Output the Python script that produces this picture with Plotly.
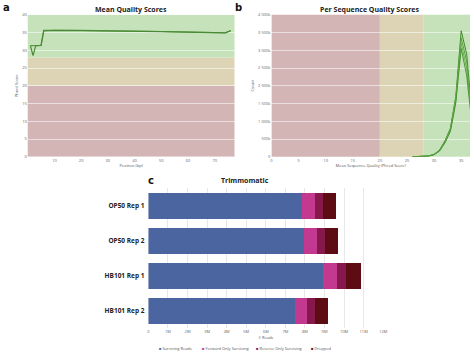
import plotly.graph_objects as go

W, H = 474, 353
def fx(px): return px / W
def fy(py): return 1 - py / H

FONT = "Open Sans"

# ---------------- Panel a: Mean Quality Scores ----------------
pos_a = [1, 2, 3, 4, 5, 6, 7, 10, 20, 30, 40, 50, 60, 70, 74, 76]
mean_q_s1 = [31.3, 31.3, 31.3, 31.3, 31.4, 35.6, 35.65, 35.65, 35.6, 35.55, 35.45, 35.3, 35.15, 35.0, 34.95, 35.6]
mean_q_s2 = [31.3, 28.5, 31.3, 31.3, 31.4, 35.5, 35.55, 35.6, 35.55, 35.5, 35.4, 35.25, 35.1, 34.95, 34.9, 35.5]
a_xticks = [10, 20, 30, 40, 50, 60, 70]
a_yticks = [0, 5, 10, 15, 20, 25, 30, 35, 40]

# ---------------- Panel b: Per Sequence Quality Scores ----------------
qual_x = [26, 27, 28, 29, 30, 31, 32, 33, 34, 35, 36, 37]
count_s1 = [0, 2, 8, 25, 70, 190, 450, 800, 1700, 3550, 2900, 1200]
count_s2 = [0, 2, 8, 24, 66, 180, 430, 770, 1640, 3350, 2700, 1100]
count_s3 = [0, 2, 7, 22, 62, 170, 410, 740, 1580, 3200, 2500, 1000]
count_s4 = [0, 2, 7, 21, 58, 160, 390, 710, 1520, 3050, 2300, 900]
b_xticks = [0, 5, 10, 15, 20, 25, 30, 35]
b_yticks = [0, 500, 1000, 1500, 2000, 2500, 3000, 3500, 4000]
b_yticklabels = ["0", "500k", "1 000k", "1 500k", "2 000k", "2 500k", "3 000k", "3 500k", "4 000k"]

# ---------------- Panel c: Trimmomatic ----------------
samples = ["OP50 Rep 1", "OP50 Rep 2", "HB101 Rep 1", "HB101 Rep 2"]
surviving = [7.85e6, 7.95e6, 8.94e6, 7.48e6]
forward_only = [0.64e6, 0.66e6, 0.70e6, 0.62e6]
reverse_only = [0.42e6, 0.39e6, 0.45e6, 0.39e6]
dropped = [0.68e6, 0.70e6, 0.76e6, 0.71e6]
series_names = ["Surviving Reads", "Forward Only Surviving", "Reverse Only Surviving", "Dropped"]
series_colors = ["#4b65a0", "#c2398f", "#86184b", "#5c0c12"]
c_xticks = [i * 1e6 for i in range(13)]
c_xticklabels = ["0"] + [f"{i}M" for i in range(1, 13)]

GREEN_BG = "#c6e2bb"
YELLOW_BG = "#ddd4b6"
RED_BG = "#d3b5b5"

fig = go.Figure()

for ys, col in [(mean_q_s1, "#5a9a40"), (mean_q_s2, "#4a8a35")]:
    fig.add_trace(go.Scatter(x=pos_a, y=ys, mode="lines", line=dict(color=col, width=1.2),
                             xaxis="x", yaxis="y", showlegend=False))

for ys, col in [(count_s1, "#3f8a2c"), (count_s2, "#5aa03f"), (count_s3, "#6cb04f"), (count_s4, "#4a9535")]:
    fig.add_trace(go.Scatter(x=qual_x, y=ys, mode="lines", line=dict(color=col, width=1),
                             xaxis="x2", yaxis="y2", showlegend=False))

for name, vals, col in zip(series_names, [surviving, forward_only, reverse_only, dropped], series_colors):
    fig.add_trace(go.Bar(y=samples, x=vals, orientation="h", name=name, marker=dict(color=col, line=dict(width=0)),
                         xaxis="x3", yaxis="y3", showlegend=False))

tickfont = dict(family=FONT, size=4, color="#666")
titlefont = dict(family=FONT, size=4, color="#555")

shapes = []
for y0, y1, c in [(0, 20, RED_BG), (20, 28, YELLOW_BG), (28, 40, GREEN_BG)]:
    shapes.append(dict(type="rect", xref="x domain", yref="y", x0=0, x1=1, y0=y0, y1=y1,
                       fillcolor=c, line=dict(width=0), layer="below"))
for x0, x1, c in [(0, 20, RED_BG), (20, 28, YELLOW_BG), (28, 40, GREEN_BG)]:
    shapes.append(dict(type="rect", xref="x2", yref="y2 domain", x0=x0, x1=x1, y0=0, y1=1,
                       fillcolor=c, line=dict(width=0), layer="below"))

def ann(text, px, py, size, family=FONT, color="#222", xanchor="center"):
    return dict(text=text, x=fx(px), y=fy(py), xref="paper", yref="paper",
                xanchor=xanchor, yanchor="middle", showarrow=False,
                font=dict(family=family, size=size, color=color))

annotations = [
    ann("<b>Mean Quality Scores</b>", 131, 6.5, 7),
    ann("<b>Per Sequence Quality Scores</b>", 372, 6.5, 7),
    ann("<b>Trimmomatic</b>", 247, 180, 7),
    ann("<b>a</b>", 0, 4.5, 10, family="DejaVu Sans", color="#111", xanchor="left"),
    ann("<b>b</b>", 240, 4.5, 10, family="DejaVu Sans", color="#111"),
    ann("<b>c</b>", 152, 180, 10, family="DejaVu Sans", color="#111"),
]

# legend for panel c drawn as text
leg_x = [158, 201, 256, 311]
for name, col, lx in zip(series_names, series_colors, leg_x):
    annotations.append(ann(f"<span style='color:{col}'>■</span> {name}", lx, 350, 4,
                           color="#555", xanchor="left"))

fig.update_layout(
    width=W, height=H, margin=dict(l=0, r=0, t=0, b=0),
    paper_bgcolor="white", plot_bgcolor="rgba(0,0,0,0)",
    bargap=0.24, barmode="stack",
    shapes=shapes, annotations=annotations,
    xaxis=dict(domain=[fx(27), fx(236)], range=[0, 77.4], tickvals=a_xticks, tickfont=tickfont,
               showgrid=False, zeroline=False, showline=False, ticks="",
               title=dict(text="Position (bp)", font=titlefont, standoff=2)),
    yaxis=dict(domain=[fy(156), fy(12)], range=[0, 40], tickvals=a_yticks, tickfont=tickfont,
               gridcolor="rgba(255,255,255,0.55)", gridwidth=1, zeroline=False, showline=False, ticks="",
               title=dict(text="Phred Score", font=titlefont, standoff=3)),
    xaxis2=dict(domain=[fx(273.3), 1.0], range=[0, 36.62], tickvals=b_xticks, tickfont=tickfont,
                showgrid=False, zeroline=False, showline=False, ticks="",
                title=dict(text="Mean Sequence Quality (Phred Score)", font=titlefont, standoff=2)),
    yaxis2=dict(domain=[fy(156), fy(12)], range=[0, 4000], tickvals=b_yticks, ticktext=b_yticklabels,
                tickfont=tickfont, gridcolor="rgba(255,255,255,0.55)", gridwidth=1, zeroline=False,
                showline=False, ticks="", anchor="x2",
                title=dict(text="Count", font=titlefont, standoff=3)),
    xaxis3=dict(domain=[fx(149), fx(386.3)], range=[0, 12e6], tickvals=c_xticks, ticktext=c_xticklabels,
                tickfont=tickfont, gridcolor="#e8e8e8", gridwidth=1, zeroline=False, showline=False,
                ticks="", anchor="y3",
                title=dict(text="# Reads", font=titlefont, standoff=2)),
    yaxis3=dict(domain=[fy(330), fy(188)], autorange="reversed", anchor="x3",
                tickfont=dict(family=FONT, size=6.5, color="#222"), showgrid=False, zeroline=False,
                ticks="", ticklabelstandoff=3, tickprefix="<b>", ticksuffix="</b>"),
)

fig.write_html("out.html")
